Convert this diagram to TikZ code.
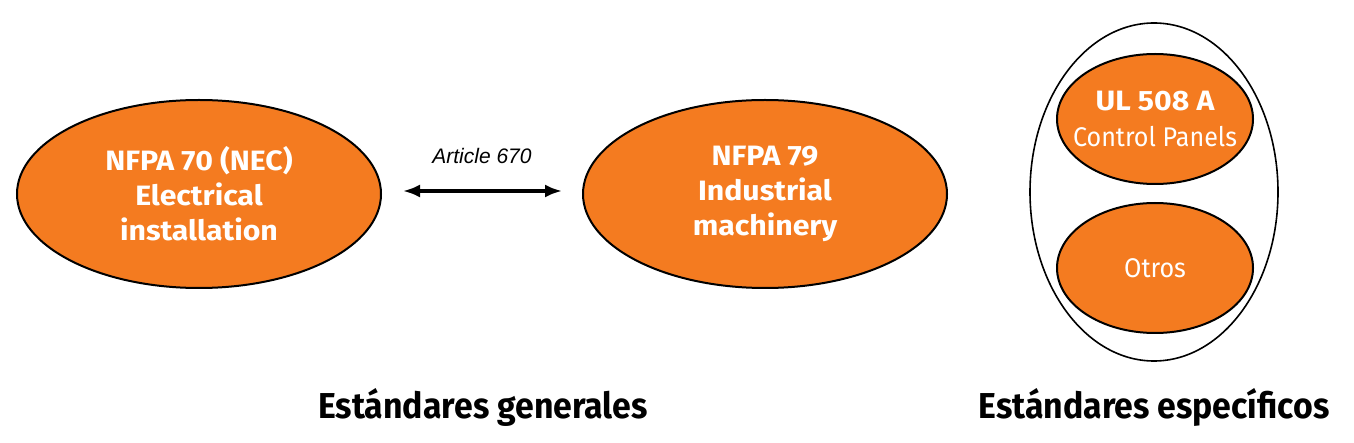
\documentclass[tikz,border=0pt]{standalone}
\usepackage{fontspec}
\usetikzlibrary{shapes.geometric,arrows.meta}
\newfontfamily\boldnodefont{Fira Sans}[FakeStretch=1.08]
\newfontfamily\nodefont{Fira Sans}[FakeStretch=0.93]
\newfontfamily\labfont{Fira Sans}[FakeStretch=0.94]
\newfontfamily\arial{Liberation Sans}
\definecolor{orng}{HTML}{F47B20}
\tikzset{
  bigell/.style={ellipse, draw=black, line width=2pt, fill=orng, minimum width=364pt, minimum height=188pt, inner sep=0pt},
  bigtext/.style={align=center, text=white, font=\boldnodefont\fontsize{28}{35}\selectfont\bfseries},
  smallell/.style={ellipse, draw=black, line width=2pt, fill=orng, minimum width=196pt, minimum height=130pt, inner sep=0pt},
  smalltext/.style={align=center, text=white, font=\nodefont\fontsize{27}{36}\selectfont},
  outerell/.style={ellipse, draw=black, line width=1.6pt, minimum width=248pt, minimum height=338pt, inner sep=0pt},
  caption/.style={font=\labfont\fontsize{36}{40}\selectfont\bfseries, text=black},
}
\begin{document}
\begin{tikzpicture}[x=1pt,y=-1pt]
\useasboundingbox (0,0) rectangle (1354,443);
\node[outerell] (outer) at (1154,192) {};
\node[bigell, label={[bigtext]center:{NFPA 70 (NEC)\\Electrical\\installation}}] (nfpa70) at (199,194) {};
\node[bigell, label={[bigtext]center:{NFPA 79\\Industrial\\machinery}}] (nfpa79) at (765,194) {};
\node[smallell, label={[smalltext]center:{{\boldnodefont\fontsize{28}{36}\selectfont\bfseries UL 508 A}\\Control Panels}}] (ul) at (1155,119) {};
\node[smallell, label={[smalltext]center:{Otros}}] (otros) at (1155,268) {};
\draw[line width=3.2pt, {Latex[length=17pt,width=13pt]}-{Latex[length=17pt,width=13pt]}, shorten <=21pt, shorten >=20pt]
  ([yshift=3pt]nfpa70.east) -- node[above=22pt, font=\arial\itshape\fontsize{21}{24}\selectfont] (art) {Article 670} ([yshift=3pt]nfpa79.west);
\node[caption] (gen) at (483,407) {Estándares generales};
\node[caption] (esp) at (1154,407) {Estándares específicos};
\end{tikzpicture}
\end{document}
